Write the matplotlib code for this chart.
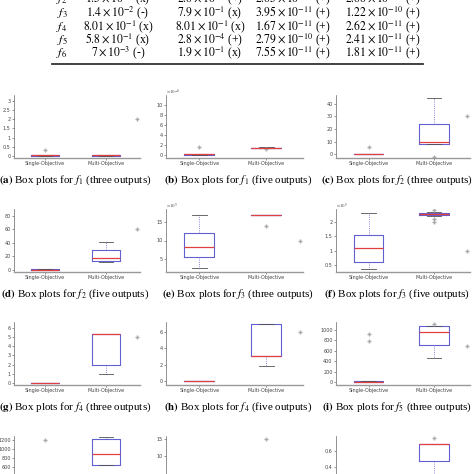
import matplotlib
matplotlib.use("Agg")
import matplotlib.pyplot as plt

# ---- table data ----
table_funcs = ["$f_2$", "$f_3$", "$f_4$", "$f_5$", "$f_6$"]
table_c1 = [r"$1.5\times10^{-1}$ (x)", r"$1.4\times10^{-2}$ (-)", r"$8.01\times10^{-1}$ (x)", r"$5.8\times10^{-1}$ (x)", r"$7\times10^{-3}$ (-)"]
table_c2 = [r"$2.8\times10^{-1}$ (+)", r"$7.9\times10^{-1}$ (x)", r"$8.01\times10^{-1}$ (x)", r"$2.8\times10^{-4}$ (+)", r"$1.9\times10^{-1}$ (x)"]
table_c3 = [r"$2.85\times10^{-11}$ (+)", r"$3.95\times10^{-11}$ (+)", r"$1.67\times10^{-11}$ (+)", r"$2.79\times10^{-10}$ (+)", r"$7.55\times10^{-11}$ (+)"]
table_c4 = [r"$2.88\times10^{-11}$ (+)", r"$1.22\times10^{-10}$ (+)", r"$2.62\times10^{-11}$ (+)", r"$2.41\times10^{-11}$ (+)", r"$1.81\times10^{-11}$ (+)"]

# ---- box plot data: (whislo, q1, med, q3, whishi, fliers) ----
groups = ["Single-Objective", "Multi-Objective"]
captions = ["(a)", "(b)", "(c)", "(d)", "(e)", "(f)", "(g)", "(h)", "(i)", "(j)", "(k)", "(l)"]
cap_text = [" Box plots for $f_1$ (three outputs)", " Box plots for $f_1$ (five outputs)", " Box plots for $f_2$ (three outputs)",
            " Box plots for $f_2$ (five outputs)", " Box plots for $f_3$ (three outputs)", " Box plots for $f_3$ (five outputs)",
            " Box plots for $f_4$ (three outputs)", " Box plots for $f_4$ (five outputs)", " Box plots for $f_5$ (three outputs)",
            "", "", ""]
single_stats = [
    (0.02, 0.03, 0.04, 0.05, 0.06, [0.35]),
    (0.05, 0.1, 0.2, 0.3, 0.35, [1.6]),
    (0.1, 0.2, 0.3, 0.4, 0.5, [6]),
    (0.2, 0.3, 0.5, 0.7, 0.9, []),
    (2.5, 5.5, 8.3, 12.0, 17.0, []),
    (0.35, 0.6, 1.1, 1.55, 2.3, []),
    (0.0, 0.0, 0.0, 0.02, 0.03, []),
    (0.0, 0.0, 0.0, 0.02, 0.03, []),
    (0, 5, 10, 20, 25, [780, 930]),
    (0, 5, 10, 20, 25, [1200]),
    (0, 0.5, 1, 1.5, 2, []),
    (0, 0.02, 0.04, 0.06, 0.08, []),
]
multi_stats = [
    (0.02, 0.03, 0.04, 0.05, 0.06, []),
    (1.4, 1.45, 1.5, 1.55, 1.6, [1.3]),
    (8, 8.5, 10, 24, 45, [-2]),
    (12, 13, 18, 30, 41, []),
    (17, 17, 17, 17, 17, [14]),
    (2.2, 2.25, 2.28, 2.32, 2.35, [2.0, 2.1, 2.4]),
    (1.0, 2.0, 5.3, 5.3, 5.3, []),
    (1.8, 3.0, 3.0, 7.0, 7.0, []),
    (460, 720, 960, 1070, 1070, [1120]),
    (640, 650, 900, 1230, 1260, []),
    (0, 1, 2, 3, 4, [15]),
    (0.2, 0.47, 0.68, 0.68, 0.68, [0.75]),
]
stray_pts = [2.0, None, 30, 60, 10, 1.0, 5, 6, 700, None, None, None]
yticks = [
    [0, 0.5, 1, 1.5, 2, 2.5, 3], [0, 2, 4, 6, 8, 10], [0, 10, 20, 30, 40], [0, 20, 40, 60, 80],
    [5, 10, 15], [0.5, 1, 1.5, 2], [0, 1, 2, 3, 4, 5, 6], [0, 2, 4, 6], [0, 200, 400, 600, 800, 1000],
    [600, 800, 1000, 1200], [10, 15], [0.4, 0.6]]
ytlabels = [
    ["0", "0.5", "1", "1.5", "2", "2.5", "3"], ["0", "2", "4", "6", "8", "10"], ["0", "10", "20", "30", "40"],
    ["0", "20", "40", "60", "80"], ["5", "10", "15"], ["0.5", "1", "1.5", "2"], ["0", "1", "2", "3", "4", "5", "6"],
    ["0", "2", "4", "6"], ["0", "200", "400", "600", "800", "1000"], ["600", "800", "1000", "1200"],
    ["10", "15"], ["0.4", "0.6"]]
ylims = [(-0.1, 3.3), (-0.5, 12), (-3, 47), (-3, 90), (1.5, 18.5), (0.25, 2.45), (-0.2, 6.6), (-0.5, 7.2),
         (-50, 1150), (-100, 1290), (-3, 16), (0.0, 0.78)]
multipliers = [None, r"$\times10^{-6}$", None, None, r"$\times10^{5}$", r"$\times10^{5}$", None, None, None, None, None, None]

W = H = 474
fig = plt.figure(figsize=(4.74, 4.74), dpi=100)

def fx(px): return px / W
def fy(py): return 1 - py / H

serif = "Liberation Serif"
plt.rcParams["mathtext.fontset"] = "stix"
# table
rows_y = [-1, 13, 27, 40, 53]
for i in range(5):
    y = fy(rows_y[i])
    fig.text(fx(62), y, table_funcs[i], ha="center", va="center", fontsize=8.8, family=serif)
    fig.text(fx(118), y, table_c1[i], ha="center", va="center", fontsize=8.4, family=serif)
    fig.text(fx(210), y, table_c2[i], ha="center", va="center", fontsize=8.4, family=serif)
    fig.text(fx(293), y, table_c3[i], ha="center", va="center", fontsize=8.4, family=serif)
    fig.text(fx(383), y, table_c4[i], ha="center", va="center", fontsize=8.4, family=serif)
fig.add_artist(plt.Line2D([fx(52), fx(423)], [fy(64), fy(64)], color="#333333", lw=1.3))

col_left = [14, 166, 336]
col_w = [126, 137, 134]
cap_cx = [75, 238, 397]
row_top = [95, 209, 322, 436]
row_h = 63

for k in range(12):
    r, c = divmod(k, 3)
    ax = fig.add_axes([fx(col_left[c]), fy(row_top[r] + row_h), fx(col_w[c]), row_h / H])
    stats = []
    for s, lab in zip((single_stats[k], multi_stats[k]), groups):
        stats.append(dict(whislo=s[0], q1=s[1], med=s[2], q3=s[3], whishi=s[4], fliers=s[5], label=lab))
    ax.bxp(stats, positions=[1, 2], widths=0.45,
           boxprops=dict(color="#6060d0", lw=0.8),
           medianprops=dict(color="#e04040", lw=0.9),
           whiskerprops=dict(color="#6060d0", lw=0.6, ls=":"),
           capprops=dict(color="#505050", lw=0.6),
           flierprops=dict(marker="+", markeredgecolor="#aaaaaa", markersize=2.5, lw=0.4))
    if stray_pts[k] is not None:
        ax.plot([2.5], [stray_pts[k]], "+", color="#aaaaaa", ms=2.5)
    ax.set_xlim(0.5, 2.55)
    ax.set_ylim(*ylims[k])
    ax.set_yticks(yticks[k])
    ax.set_yticklabels(ytlabels[k])
    ax.tick_params(labelsize=3.5, length=1.5, width=0.4, colors="#444444", pad=1)
    for sp in ("top", "right"):
        ax.spines[sp].set_visible(False)
    ax.spines["left"].set_linewidth(0.5)
    ax.spines["bottom"].set_linewidth(1.0)
    ax.spines["bottom"].set_color("#999999")
    ax.spines["left"].set_color("#666666")
    if multipliers[k]:
        ax.text(0.0, 1.02, multipliers[k], transform=ax.transAxes, fontsize=3.5, color="#444444")
    if cap_text[k]:
        fig.text(fx(cap_cx[c]), fy(row_top[r] + row_h + 22), r"$\mathbf{" + captions[k] + "}$" + cap_text[k],
                 ha="center", va="center", fontsize=7.9, family=serif)

fig.savefig("out.png", dpi=100, facecolor="white")
